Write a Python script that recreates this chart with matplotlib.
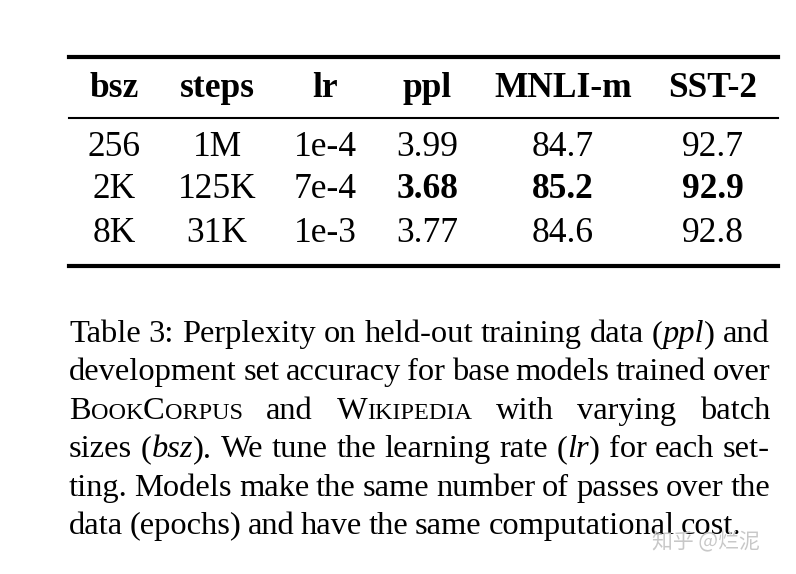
import matplotlib
matplotlib.use("Agg")
import matplotlib.pyplot as plt
from matplotlib.lines import Line2D

W, H = 796, 574
headers = ["bsz", "steps", "lr", "ppl", "MNLI-m", "SST-2"]
col_x = [114, 217, 325, 427, 563, 713]
rows = [
    ["256", "1M", "1e-4", "3.99", "84.7", "92.7"],
    ["2K", "125K", "7e-4", "3.68", "85.2", "92.9"],
    ["8K", "31K", "1e-3", "3.77", "84.6", "92.8"],
]
bold_cells = {(1, 3), (1, 4), (1, 5)}
row_y = [148, 190, 234]

fig = plt.figure(figsize=(W / 100, H / 100), dpi=100)
fig.patch.set_facecolor("white")
serif = "Liberation Serif"

def fx(x):
    return x / W

def fy(y):
    return 1 - y / H

def hline(y, lw):
    fig.add_artist(Line2D([fx(69), fx(778)], [fy(y), fy(y)], color="black", lw=lw))

hline(57, 3.0)
hline(118, 1.5)
hline(266, 3.0)

for h, x in zip(headers, col_x):
    fig.text(fx(x), fy(89), h, ha="center", va="center", family=serif,
             fontsize=25.5, fontweight="bold")
for i, (r, y) in enumerate(zip(rows, row_y)):
    for j, (v, x) in enumerate(zip(r, col_x)):
        fig.text(fx(x), fy(y), v, ha="center", va="center", family=serif,
                 fontsize=25.5, fontweight="bold" if (i, j) in bold_cells else "normal")

# caption, justified word by word
N = {}
I = {"style": "italic"}
S = {"size": 17.5}
caption = [
    [[("Table", N)], [("3:", N)], [("Perplexity", N)], [("on", N)], [("held-out", N)], [("training", N)],
     [("data", N)], [("(", N), ("ppl", I), (")", N)], [("and", N)]],
    [[("development", N)], [("set", N)], [("accuracy", N)], [("for", N)], [("base", N)], [("models", N)],
     [("trained", N)], [("over", N)]],
    [[("B", N), ("OOK", S), ("C", N), ("ORPUS", S)], [("and", N)], [("W", N), ("IKIPEDIA", S)],
     [("with", N)], [("varying", N)], [("batch", N)]],
    [[("sizes", N)], [("(", N), ("bsz", I), (").", N)], [("We", N)], [("tune", N)], [("the", N)],
     [("learning", N)], [("rate", N)], [("(", N), ("lr", I), (")", N)], [("for", N)], [("each", N)], [("set-", N)]],
    [[("ting.", N)], [("Models", N)], [("make", N)], [("the", N)], [("same", N)], [("number", N)],
     [("of", N)], [("passes", N)], [("over", N)], [("the", N)]],
    [[("data", N)], [("(epochs)", N)], [("and", N)], [("have", N)], [("the", N)], [("same", N)],
     [("computational", N)], [("cost.", N)]],
]
cap_y = [333, 371, 410, 448, 487, 525]
left, right = 69, 770
fig.canvas.draw()
renderer = fig.canvas.get_renderer()

def make(s, st, x, y):
    kw = dict(family=serif, fontsize=st.get("size", 23.4), style=st.get("style", "normal"))
    t = fig.text(fx(x), fy(y), s, ha="left", va="baseline", **kw)
    return t, t.get_window_extent(renderer).width

for li, (line, y) in enumerate(zip(caption, cap_y)):
    base = y + 9
    widths = []
    for word in line:
        w = 0
        for s, st in word:
            t, tw = make(s, st, 0, base)
            t.remove()
            w += tw
        widths.append(w)
    if li == len(caption) - 1:
        gap = 6.5
    else:
        gap = (right - left - sum(widths)) / (len(line) - 1)
    x = left
    for word, w in zip(line, widths):
        cx = x
        for s, st in word:
            _, tw = make(s, st, cx, base)
            cx += tw
        x += w + gap

fig.text(fx(652), fy(542), "知乎 @烂泥", ha="left", va="center",
         family=["Noto Sans CJK SC", "DejaVu Sans"], fontsize=15, color="#c8c8c8")

fig.savefig("out.png", dpi=100)
